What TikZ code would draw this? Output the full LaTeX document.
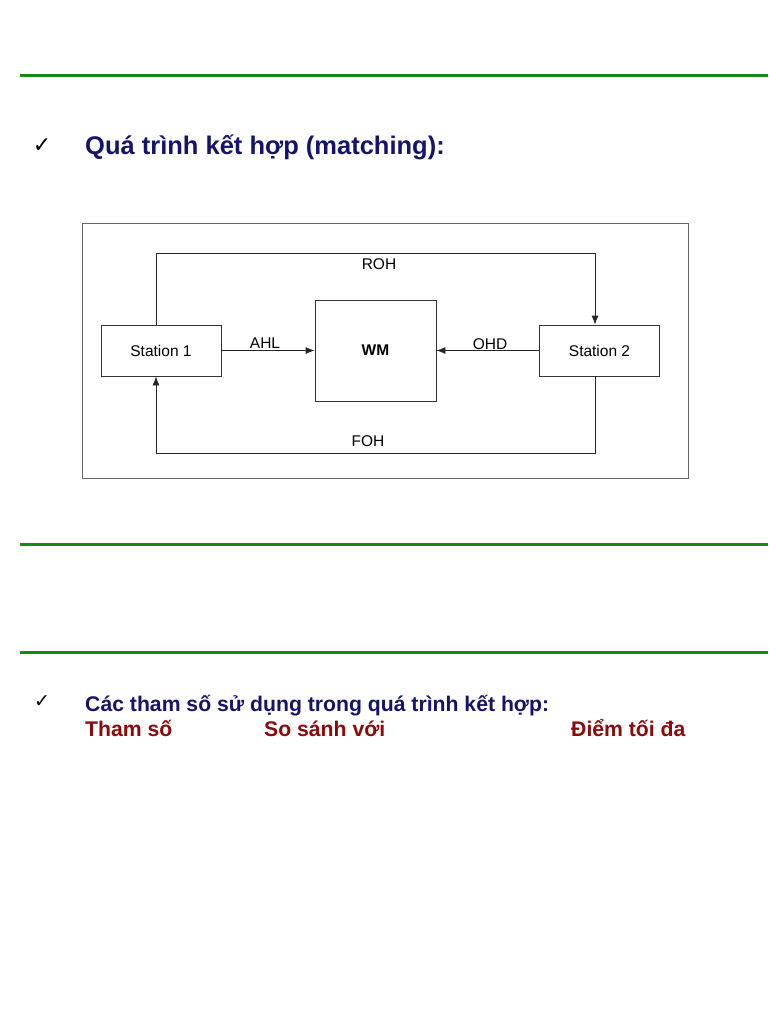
\documentclass[tikz,border=0pt]{standalone}
\usepackage{fontspec}
\setmainfont{Liberation Sans}
\newfontfamily\djv{DejaVu Sans}
\usetikzlibrary{arrows.meta}
\definecolor{gline}{RGB}{20,140,20}
\definecolor{navy}{RGB}{20,20,110}
\definecolor{dred}{RGB}{140,10,10}
\begin{document}
\begin{tikzpicture}[x=1pt,y=-1pt,
  box/.style={draw=black!80,line width=0.8pt,minimum width=120pt,minimum height=51pt,font=\fontsize{15.5}{17}\selectfont,inner sep=0pt},
  conn/.style={draw=black!85,line width=0.8pt,-{Latex[length=9pt,width=7pt]}},
  lbl/.style={font=\fontsize{15.5}{17}\selectfont,inner sep=0pt},
  sep/.style={draw=gline,line width=3pt},
  ttl/.style={anchor=base west,inner sep=0pt,font=\bfseries\fontsize{21.2}{24}\selectfont}]
\useasboundingbox (0,0) rectangle (768,1024);
\fill[white] (0,0) rectangle (768,1024);
\draw[sep] (20,76) -- (768,76);
\draw[sep] (20,544) -- (768,544);
\draw[sep] (20,652) -- (768,652);
\node[anchor=center,font=\djv\bfseries\fontsize{22}{24}\selectfont] (ck1) at (42,146) {✓};
\node[anchor=base west,inner sep=0pt,text=navy,font=\bfseries\fontsize{25.5}{28}\selectfont] (title) at (85,155) {Quá trình kết hợp (matching):};
\draw[black!60,line width=0.8pt] (82,223) rectangle (688,478);
\node[box] (s1) at (161,350.5) {Station 1};
\node[box,minimum height=101pt,minimum width=121pt,font=\bfseries\fontsize{15.5}{17}\selectfont] (wm) at (375.5,350.5) {WM};
\node[box] (s2) at (599.5,350.5) {Station 2};
\coordinate (r1) at (156,253);
\coordinate (r2) at (595,253);
\coordinate (f1) at (595,453);
\coordinate (f2) at (156,453);
\draw[conn] (s1.north -| r1) -- (r1) -- (r2) -- (s2.north -| r2);
\draw[conn] (s2.south -| f1) -- (f1) -- (f2) -- (s1.south -| f2);
\draw[conn] (s1.east) -- (wm.west);
\draw[conn] (s2.west) -- (wm.east);
\node[lbl] (roh) at (379,264) {ROH};
\node[lbl] (foh) at (368,441) {FOH};
\node[lbl] (ahl) at (265,343) {AHL};
\node[lbl] (ohd) at (490,344) {OHD};
\node[anchor=center,font=\djv\bfseries\fontsize{19}{22}\selectfont] (ck2) at (42,702) {✓};
\node[ttl,text=navy] (p1) at (85,711) {Các tham số sử dụng trong quá trình kết hợp:};
\node[ttl,text=dred] (c1) at (85,736) {Tham số};
\node[ttl,text=dred] (c2) at (264,736) {So sánh với};
\node[ttl,text=dred] (c3) at (571,736) {Điểm tối đa};
\end{tikzpicture}
\end{document}
